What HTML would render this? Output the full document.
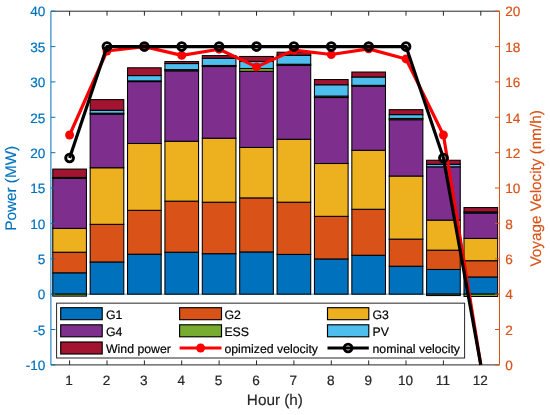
<!DOCTYPE html>
<html><head><meta charset="utf-8"><title>Power and voyage velocity</title>
<style>html,body{margin:0;padding:0;background:#fff}svg{display:block}text{text-rendering:geometricPrecision}</style>
</head><body>
<svg width="550" height="415" viewBox="0 0 550 415">
<rect width="550" height="415" fill="#fff"/>
<defs><clipPath id="cp"><rect x="50.40" y="10.70" width="449.60" height="354.70"/></clipPath></defs>
<line x1="50.90" y1="294.16" x2="499.50" y2="294.16" stroke="#0072BD" stroke-width="0.8" stroke-opacity="0.85"/>
<g stroke="#000" stroke-width="1.05" stroke-linejoin="miter">
<rect x="52.77" y="272.80" width="33.65" height="21.36" fill="#0072BD"/>
<rect x="52.77" y="252.21" width="33.65" height="20.59" fill="#D95319"/>
<rect x="52.77" y="228.37" width="33.65" height="23.84" fill="#EDB120"/>
<rect x="52.77" y="178.43" width="33.65" height="49.94" fill="#7E2F8E"/>
<rect x="52.77" y="294.16" width="33.65" height="1.98" fill="#77AC30"/>
<rect x="52.77" y="177.44" width="33.65" height="0.99" fill="#4DBEEE"/>
<rect x="52.77" y="169.09" width="33.65" height="8.35" fill="#A2142F"/>
<rect x="90.15" y="261.97" width="33.65" height="32.19" fill="#0072BD"/>
<rect x="90.15" y="224.34" width="33.65" height="37.63" fill="#D95319"/>
<rect x="90.15" y="167.75" width="33.65" height="56.59" fill="#EDB120"/>
<rect x="90.15" y="114.13" width="33.65" height="53.62" fill="#7E2F8E"/>
<rect x="90.15" y="113.21" width="33.65" height="0.92" fill="#77AC30"/>
<rect x="90.15" y="110.24" width="33.65" height="2.97" fill="#4DBEEE"/>
<rect x="90.15" y="99.62" width="33.65" height="10.61" fill="#A2142F"/>
<rect x="127.54" y="254.19" width="33.65" height="39.97" fill="#0072BD"/>
<rect x="127.54" y="210.33" width="33.65" height="43.86" fill="#D95319"/>
<rect x="127.54" y="143.48" width="33.65" height="66.85" fill="#EDB120"/>
<rect x="127.54" y="81.59" width="33.65" height="61.90" fill="#7E2F8E"/>
<rect x="127.54" y="80.88" width="33.65" height="0.71" fill="#77AC30"/>
<rect x="127.54" y="75.57" width="33.65" height="5.31" fill="#4DBEEE"/>
<rect x="127.54" y="67.79" width="33.65" height="7.78" fill="#A2142F"/>
<rect x="164.92" y="252.21" width="33.65" height="41.95" fill="#0072BD"/>
<rect x="164.92" y="201.14" width="33.65" height="51.07" fill="#D95319"/>
<rect x="164.92" y="141.22" width="33.65" height="59.92" fill="#EDB120"/>
<rect x="164.92" y="70.83" width="33.65" height="70.39" fill="#7E2F8E"/>
<rect x="164.92" y="69.63" width="33.65" height="1.20" fill="#77AC30"/>
<rect x="164.92" y="63.55" width="33.65" height="6.08" fill="#4DBEEE"/>
<rect x="164.92" y="61.57" width="33.65" height="1.98" fill="#A2142F"/>
<rect x="202.30" y="253.70" width="33.65" height="40.46" fill="#0072BD"/>
<rect x="202.30" y="202.20" width="33.65" height="51.50" fill="#D95319"/>
<rect x="202.30" y="138.18" width="33.65" height="64.02" fill="#EDB120"/>
<rect x="202.30" y="66.52" width="33.65" height="71.66" fill="#7E2F8E"/>
<rect x="202.30" y="65.46" width="33.65" height="1.06" fill="#77AC30"/>
<rect x="202.30" y="58.24" width="33.65" height="7.22" fill="#4DBEEE"/>
<rect x="202.30" y="55.62" width="33.65" height="2.62" fill="#A2142F"/>
<rect x="239.69" y="251.93" width="33.65" height="42.23" fill="#0072BD"/>
<rect x="239.69" y="197.88" width="33.65" height="54.05" fill="#D95319"/>
<rect x="239.69" y="147.45" width="33.65" height="50.44" fill="#EDB120"/>
<rect x="239.69" y="71.33" width="33.65" height="76.12" fill="#7E2F8E"/>
<rect x="239.69" y="68.50" width="33.65" height="2.83" fill="#77AC30"/>
<rect x="239.69" y="61.43" width="33.65" height="7.07" fill="#4DBEEE"/>
<rect x="239.69" y="56.47" width="33.65" height="4.95" fill="#A2142F"/>
<rect x="277.07" y="254.40" width="33.65" height="39.76" fill="#0072BD"/>
<rect x="277.07" y="202.20" width="33.65" height="52.21" fill="#D95319"/>
<rect x="277.07" y="139.24" width="33.65" height="62.96" fill="#EDB120"/>
<rect x="277.07" y="65.32" width="33.65" height="73.92" fill="#7E2F8E"/>
<rect x="277.07" y="64.25" width="33.65" height="1.06" fill="#77AC30"/>
<rect x="277.07" y="55.27" width="33.65" height="8.98" fill="#4DBEEE"/>
<rect x="277.07" y="52.23" width="33.65" height="3.04" fill="#A2142F"/>
<rect x="314.45" y="258.93" width="33.65" height="35.23" fill="#0072BD"/>
<rect x="314.45" y="216.35" width="33.65" height="42.59" fill="#D95319"/>
<rect x="314.45" y="163.50" width="33.65" height="52.84" fill="#EDB120"/>
<rect x="314.45" y="97.50" width="33.65" height="66.00" fill="#7E2F8E"/>
<rect x="314.45" y="96.09" width="33.65" height="1.41" fill="#77AC30"/>
<rect x="314.45" y="84.77" width="33.65" height="11.32" fill="#4DBEEE"/>
<rect x="314.45" y="79.53" width="33.65" height="5.23" fill="#A2142F"/>
<rect x="351.84" y="255.25" width="33.65" height="38.91" fill="#0072BD"/>
<rect x="351.84" y="209.27" width="33.65" height="45.98" fill="#D95319"/>
<rect x="351.84" y="150.27" width="33.65" height="59.00" fill="#EDB120"/>
<rect x="351.84" y="86.18" width="33.65" height="64.09" fill="#7E2F8E"/>
<rect x="351.84" y="85.34" width="33.65" height="0.85" fill="#77AC30"/>
<rect x="351.84" y="76.99" width="33.65" height="8.35" fill="#4DBEEE"/>
<rect x="351.84" y="72.04" width="33.65" height="4.95" fill="#A2142F"/>
<rect x="389.22" y="266.22" width="33.65" height="27.94" fill="#0072BD"/>
<rect x="389.22" y="239.12" width="33.65" height="27.09" fill="#D95319"/>
<rect x="389.22" y="176.02" width="33.65" height="63.10" fill="#EDB120"/>
<rect x="389.22" y="119.72" width="33.65" height="56.31" fill="#7E2F8E"/>
<rect x="389.22" y="118.44" width="33.65" height="1.27" fill="#77AC30"/>
<rect x="389.22" y="114.62" width="33.65" height="3.82" fill="#4DBEEE"/>
<rect x="389.22" y="109.67" width="33.65" height="4.95" fill="#A2142F"/>
<rect x="426.60" y="269.47" width="33.65" height="24.69" fill="#0072BD"/>
<rect x="426.60" y="250.16" width="33.65" height="19.31" fill="#D95319"/>
<rect x="426.60" y="220.10" width="33.65" height="30.06" fill="#EDB120"/>
<rect x="426.60" y="166.83" width="33.65" height="53.27" fill="#7E2F8E"/>
<rect x="426.60" y="294.16" width="33.65" height="1.41" fill="#77AC30"/>
<rect x="426.60" y="164.28" width="33.65" height="2.55" fill="#4DBEEE"/>
<rect x="426.60" y="160.25" width="33.65" height="4.03" fill="#A2142F"/>
<rect x="463.99" y="276.97" width="33.65" height="17.19" fill="#0072BD"/>
<rect x="463.99" y="260.70" width="33.65" height="16.27" fill="#D95319"/>
<rect x="463.99" y="238.42" width="33.65" height="22.28" fill="#EDB120"/>
<rect x="463.99" y="213.09" width="33.65" height="25.32" fill="#7E2F8E"/>
<rect x="463.99" y="294.16" width="33.65" height="2.33" fill="#77AC30"/>
<rect x="463.99" y="211.89" width="33.65" height="1.20" fill="#4DBEEE"/>
<rect x="463.99" y="207.57" width="33.65" height="4.32" fill="#A2142F"/>
</g>
<g stroke-width="1" fill="none">
<path d="M50.9 11.2H499.5 M50.9 364.9H499.5" stroke="#262626"/>
<path d="M69.6 11.2v4.5 M69.6 364.9v-4.5 M107.0 11.2v4.5 M107.0 364.9v-4.5 M144.4 11.2v4.5 M144.4 364.9v-4.5 M181.7 11.2v4.5 M181.7 364.9v-4.5 M219.1 11.2v4.5 M219.1 364.9v-4.5 M256.5 11.2v4.5 M256.5 364.9v-4.5 M293.9 11.2v4.5 M293.9 364.9v-4.5 M331.3 11.2v4.5 M331.3 364.9v-4.5 M368.7 11.2v4.5 M368.7 364.9v-4.5 M406.0 11.2v4.5 M406.0 364.9v-4.5 M443.4 11.2v4.5 M443.4 364.9v-4.5 M480.8 11.2v4.5 M480.8 364.9v-4.5 " stroke="#262626"/>
<path d="M50.9 11.2V364.9 M50.9 364.9h4.5 M50.9 329.5h4.5 M50.9 294.2h4.5 M50.9 258.8h4.5 M50.9 223.4h4.5 M50.9 188.0h4.5 M50.9 152.7h4.5 M50.9 117.3h4.5 M50.9 81.9h4.5 M50.9 46.6h4.5 M50.9 11.2h4.5 " stroke="#0072BD"/>
<path d="M499.5 11.2V364.9 M499.5 364.9h-4.5 M499.5 329.5h-4.5 M499.5 294.2h-4.5 M499.5 258.8h-4.5 M499.5 223.4h-4.5 M499.5 188.0h-4.5 M499.5 152.7h-4.5 M499.5 117.3h-4.5 M499.5 81.9h-4.5 M499.5 46.6h-4.5 M499.5 11.2h-4.5 " stroke="#D95319"/>
</g>
<g clip-path="url(#cp)" fill="none" stroke-width="3.2" stroke-linejoin="round">
<polyline points="69.59,134.99 106.97,50.99 144.36,46.57 181.74,55.41 219.13,49.22 256.51,66.91 293.89,50.11 331.27,54.53 368.66,48.87 406.04,58.95 443.43,134.99 480.81,364.90" stroke="#FF0000"/>
</g>
<g fill="#FF0000">
<circle cx="69.59" cy="134.99" r="4.45"/>
<circle cx="106.97" cy="50.99" r="4.45"/>
<circle cx="144.36" cy="46.57" r="4.45"/>
<circle cx="181.74" cy="55.41" r="4.45"/>
<circle cx="219.13" cy="49.22" r="4.45"/>
<circle cx="256.51" cy="66.91" r="4.45"/>
<circle cx="293.89" cy="50.11" r="4.45"/>
<circle cx="331.27" cy="54.53" r="4.45"/>
<circle cx="368.66" cy="48.87" r="4.45"/>
<circle cx="406.04" cy="58.95" r="4.45"/>
<circle cx="443.43" cy="134.99" r="4.45"/>
</g>
<g clip-path="url(#cp)" fill="none" stroke-width="3.2" stroke-linejoin="round">
<polyline points="69.59,157.99 106.97,46.57 144.36,46.57 181.74,46.57 219.13,46.57 256.51,46.57 293.89,46.57 331.27,46.57 368.66,46.57 406.04,46.57 443.43,157.99 480.81,364.90" stroke="#000"/>
</g>
<g fill="none" stroke="#000" stroke-width="2.9">
<circle cx="69.59" cy="157.99" r="3.9"/>
<circle cx="106.97" cy="46.57" r="3.9"/>
<circle cx="144.36" cy="46.57" r="3.9"/>
<circle cx="181.74" cy="46.57" r="3.9"/>
<circle cx="219.13" cy="46.57" r="3.9"/>
<circle cx="256.51" cy="46.57" r="3.9"/>
<circle cx="293.89" cy="46.57" r="3.9"/>
<circle cx="331.27" cy="46.57" r="3.9"/>
<circle cx="368.66" cy="46.57" r="3.9"/>
<circle cx="406.04" cy="46.57" r="3.9"/>
<circle cx="443.43" cy="157.99" r="3.9"/>
</g>
<g font-family="Liberation Sans, Arial, Helvetica, sans-serif" font-size="13.6" stroke-width="0.2" fill="#0072BD" stroke="#0072BD" text-anchor="end">
<text x="45.4" y="370.1">-10</text>
<text x="45.4" y="334.7">-5</text>
<text x="45.4" y="299.4">0</text>
<text x="45.4" y="264.0">5</text>
<text x="45.4" y="228.6">10</text>
<text x="45.4" y="193.2">15</text>
<text x="45.4" y="157.9">20</text>
<text x="45.4" y="122.5">25</text>
<text x="45.4" y="87.1">30</text>
<text x="45.4" y="51.8">35</text>
<text x="45.4" y="16.4">40</text>
</g>
<g font-family="Liberation Sans, Arial, Helvetica, sans-serif" font-size="13.6" stroke-width="0.2" fill="#D95319" stroke="#D95319">
<text x="505.3" y="370.1">0</text>
<text x="505.3" y="334.7">2</text>
<text x="505.3" y="299.4">4</text>
<text x="505.3" y="264.0">6</text>
<text x="505.3" y="228.6">8</text>
<text x="505.3" y="193.2">10</text>
<text x="505.3" y="157.9">12</text>
<text x="505.3" y="122.5">14</text>
<text x="505.3" y="87.1">16</text>
<text x="505.3" y="51.8">18</text>
<text x="505.3" y="16.4">20</text>
</g>
<g font-family="Liberation Sans, Arial, Helvetica, sans-serif" font-size="13.6" stroke-width="0.2" fill="#262626" stroke="#262626" text-anchor="middle">
<text x="69.1" y="384.5">1</text>
<text x="106.5" y="384.5">2</text>
<text x="143.9" y="384.5">3</text>
<text x="181.2" y="384.5">4</text>
<text x="218.6" y="384.5">5</text>
<text x="256.0" y="384.5">6</text>
<text x="293.4" y="384.5">7</text>
<text x="330.8" y="384.5">8</text>
<text x="368.2" y="384.5">9</text>
<text x="405.5" y="384.5">10</text>
<text x="442.9" y="384.5">11</text>
<text x="480.3" y="384.5">12</text>
</g>
<text font-family="Liberation Sans, Arial, Helvetica, sans-serif" font-size="15.3" stroke-width="0.15" fill="#262626" stroke="#262626" text-anchor="middle" x="274.9" y="405">Hour (h)</text>
<text font-family="Liberation Sans, Arial, Helvetica, sans-serif" font-size="15.3" stroke-width="0.15" fill="#0072BD" stroke="#0072BD" text-anchor="middle" transform="translate(15.7 188.3) rotate(-90)">Power (MW)</text>
<text font-family="Liberation Sans, Arial, Helvetica, sans-serif" font-size="15.3" stroke-width="0.15" fill="#D95319" stroke="#D95319" text-anchor="middle" transform="translate(541 188.3) rotate(-90)">Voyage Velocity (nm/h)</text>
<rect x="56.6" y="303.15" width="408" height="54.85" fill="#fff" stroke="#262626" stroke-width="1"/>
<g font-family="Liberation Sans, Arial, Helvetica, sans-serif" font-size="12.3" fill="#000">
<rect x="60.7" y="307.7" width="41.5" height="12" fill="#0072BD" stroke="#000" stroke-width="1.15"/>
<text x="106.0" y="318.6" stroke="#000" stroke-width="0.2">G1</text>
<rect x="179.6" y="307.7" width="41.9" height="12" fill="#D95319" stroke="#000" stroke-width="1.15"/>
<text x="224.4" y="318.6" stroke="#000" stroke-width="0.2">G2</text>
<rect x="327.5" y="307.7" width="41.3" height="12" fill="#EDB120" stroke="#000" stroke-width="1.15"/>
<text x="372.5" y="318.6" stroke="#000" stroke-width="0.2">G3</text>
<rect x="60.7" y="324.8" width="41.5" height="12" fill="#7E2F8E" stroke="#000" stroke-width="1.15"/>
<text x="106.0" y="335.7" stroke="#000" stroke-width="0.2">G4</text>
<rect x="179.6" y="324.8" width="41.9" height="12" fill="#77AC30" stroke="#000" stroke-width="1.15"/>
<text x="224.4" y="335.7" stroke="#000" stroke-width="0.2">ESS</text>
<rect x="327.5" y="324.8" width="41.3" height="12" fill="#4DBEEE" stroke="#000" stroke-width="1.15"/>
<text x="372.5" y="335.7" stroke="#000" stroke-width="0.2">PV</text>
<rect x="60.7" y="342.0" width="41.5" height="12" fill="#A2142F" stroke="#000" stroke-width="1.15"/>
<text x="106.0" y="352.9" stroke="#000" stroke-width="0.2">Wind power</text>
<line x1="179.6" y1="348.0" x2="221.5" y2="348.0" stroke="#FF0000" stroke-width="3.2"/>
<circle cx="200.6" cy="348.0" r="4.45" fill="#FF0000"/>
<text x="224.4" y="352.9" stroke="#000" stroke-width="0.2">opimized velocity</text>
<line x1="327.5" y1="348.0" x2="368.8" y2="348.0" stroke="#000" stroke-width="3.2"/>
<circle cx="348.1" cy="348.0" r="3.9" fill="none" stroke="#000" stroke-width="2.9"/>
<text x="372.5" y="352.9" stroke="#000" stroke-width="0.2">nominal velocity</text>
</g>
</svg>
</body></html>
